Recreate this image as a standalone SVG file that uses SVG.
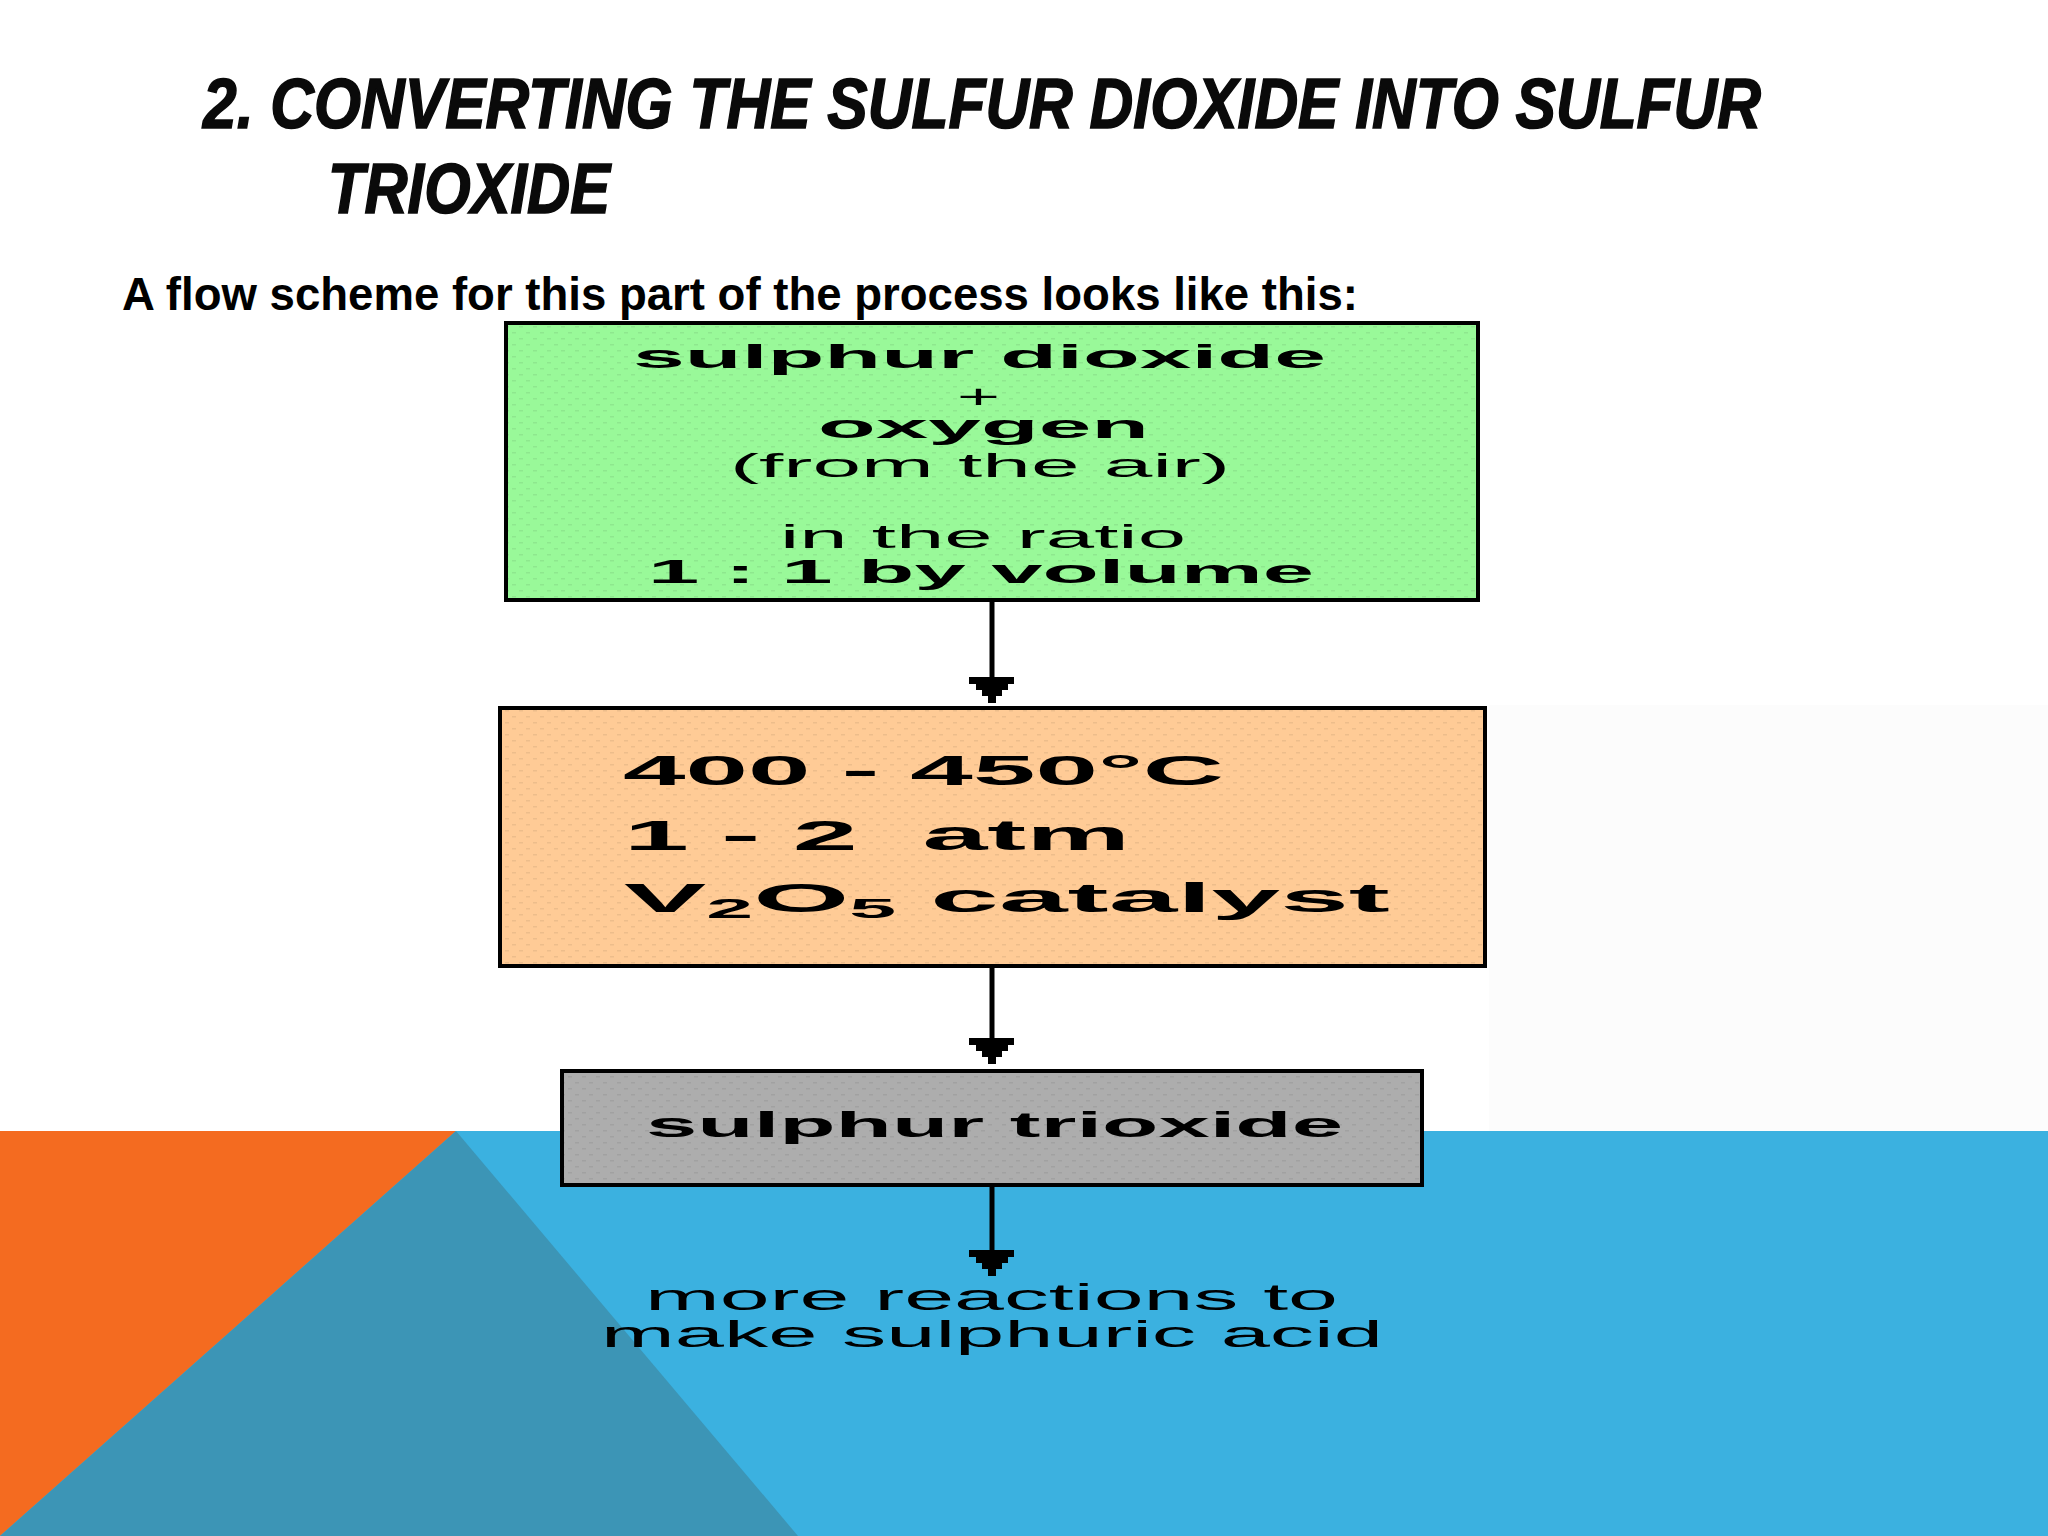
<svg xmlns="http://www.w3.org/2000/svg" xmlns:xlink="http://www.w3.org/1999/xlink" width="2048" height="1536" viewBox="0 0 2048 1536">
  <style>
    .title { font-family: "Liberation Sans", Arial, sans-serif; font-weight: bold; font-style: italic; font-size: 70px; fill: #0a0a0a; stroke: #0a0a0a; stroke-width: 1.6; }
    .sub { font-family: "Liberation Sans", Arial, sans-serif; font-weight: bold; font-size: 46px; fill: #000; }
    .bx { font-family: "Liberation Sans", Arial, sans-serif; font-weight: bold; fill: #000; }
    .rg { font-family: "Liberation Sans", Arial, sans-serif; font-weight: normal; fill: #000; }
    .box { stroke: #000; stroke-width: 4; }
    .conn { stroke: #000; stroke-width: 5; fill: none; }
  </style>
  <defs>
    <pattern id="tex" width="14" height="12" patternUnits="userSpaceOnUse">
      <rect x="1" y="2" width="4" height="1.5" fill="#000" opacity="0.07"/>
      <rect x="8" y="8" width="4" height="1.5" fill="#000" opacity="0.07"/>
    </pattern>
    <path id="ah" d="M-23,0 L22,0 L22,7 L16,7 L16,13 L10,13 L10,19 L4,19 L4,26 L-4,26 L-4,19 L-10,19 L-10,13 L-16,13 L-16,7 L-23,7 Z" fill="#000"/>
  </defs>

  <!-- background -->
  <rect x="0" y="0" width="2048" height="1536" fill="#ffffff"/>
  <rect x="1489" y="705" width="559" height="426" fill="#fcfcfc"/>
  <rect x="0" y="1131" width="2048" height="405" fill="#3bb1e0"/>
  <polygon points="0,1131 456,1131 0,1536" fill="#f46b20"/>
  <polygon points="456,1131 0,1536 798,1536" fill="#3c95b6"/>

  <!-- title -->
  <g id="title">
    <text class="title" x="203" y="128" textLength="1558" lengthAdjust="spacingAndGlyphs">2. CONVERTING THE SULFUR DIOXIDE INTO SULFUR</text>
    <text class="title" x="328" y="213" textLength="282" lengthAdjust="spacingAndGlyphs">TRIOXIDE</text>
  </g>
  <g id="subtitle">
    <text class="sub" x="122" y="310" textLength="1236" lengthAdjust="spacingAndGlyphs">A flow scheme for this part of the process looks like this:</text>
  </g>

  <!-- connectors -->
  <g id="connectors">
    <line class="conn" x1="992" y1="602" x2="992" y2="682"/>
    <use xlink:href="#ah" transform="translate(992,677)"/>
    <line class="conn" x1="992" y1="968" x2="992" y2="1042"/>
    <use xlink:href="#ah" transform="translate(992,1038)"/>
    <line class="conn" x1="992" y1="1187" x2="992" y2="1254"/>
    <use xlink:href="#ah" transform="translate(992,1250)"/>
  </g>

  <!-- node 1: reactants -->
  <g id="node-reactants">
    <rect class="box" x="506" y="323" width="972" height="277" fill="#99f999"/>
    <rect x="508" y="325" width="968" height="273" fill="url(#tex)"/>
    <text class="bx" font-size="34" x="633" y="368" textLength="693" lengthAdjust="spacingAndGlyphs">sulphur dioxide</text>
    <text class="rg" font-size="34" x="957" y="408" textLength="43" lengthAdjust="spacingAndGlyphs">+</text>
    <text class="bx" font-size="34" x="818" y="438" textLength="331" lengthAdjust="spacingAndGlyphs">oxygen</text>
    <text class="rg" font-size="33" x="730" y="477" textLength="500" lengthAdjust="spacingAndGlyphs">(from the air)</text>
    <text class="rg" font-size="33" x="780" y="548" textLength="406" lengthAdjust="spacingAndGlyphs">in the ratio</text>
    <text class="bx" font-size="34" x="648" y="583" textLength="666" lengthAdjust="spacingAndGlyphs">1 : 1 by volume</text>
  </g>

  <!-- node 2: conditions -->
  <g id="node-conditions">
    <rect class="box" x="500" y="708" width="985" height="258" fill="#ffcb96"/>
    <rect x="502" y="710" width="981" height="254" fill="url(#tex)"/>
    <text class="bx" font-size="42" x="623" y="785" textLength="601" lengthAdjust="spacingAndGlyphs">400 - 450°C</text>
    <text class="bx" font-size="42" x="624" y="850" textLength="506" lengthAdjust="spacingAndGlyphs">1 - 2&#160; atm</text>
    <text class="bx" font-size="41" x="624" y="912" textLength="766" lengthAdjust="spacingAndGlyphs">V<tspan font-size="28" dy="6">2</tspan><tspan font-size="41" dy="-6">O</tspan><tspan font-size="28" dy="6">5</tspan><tspan font-size="41" dy="-6"> catalyst</tspan></text>
  </g>

  <!-- node 3: product -->
  <g id="node-product">
    <rect class="box" x="562" y="1071" width="860" height="114" fill="#adadad"/>
    <rect x="564" y="1073" width="856" height="110" fill="url(#tex)"/>
    <text class="bx" font-size="35" x="646" y="1137" textLength="697" lengthAdjust="spacingAndGlyphs">sulphur trioxide</text>
  </g>

  <!-- node 4: next step -->
  <g id="node-next">
    <text class="rg" font-size="36" x="645" y="1310" textLength="693" lengthAdjust="spacingAndGlyphs">more reactions to</text>
    <text class="rg" font-size="36" x="601" y="1347" textLength="782" lengthAdjust="spacingAndGlyphs">make sulphuric acid</text>
  </g>
</svg>
